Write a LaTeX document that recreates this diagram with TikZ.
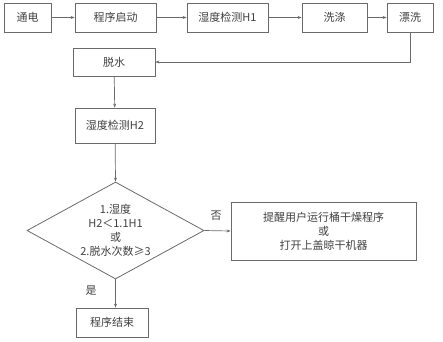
\documentclass[tikz,border=0pt]{standalone}
\usepackage{fontspec}
\setmainfont{Noto Sans CJK SC}
\usetikzlibrary{shapes.geometric,arrows.meta}
\definecolor{linegray}{HTML}{6A6A6A}
\definecolor{textgray}{HTML}{404040}
\tikzset{
  box/.style={draw=linegray, line width=0.8pt, rectangle, inner sep=0pt, text=textgray,
    font=\fontsize{11}{14}\selectfont, align=center},
  conn/.style={draw=linegray, line width=0.7pt, -{Stealth[length=4pt,width=3pt]}},
  lbl/.style={text=textgray, font=\fontsize{11}{14}\selectfont, inner sep=0pt}
}
\begin{document}
\begin{tikzpicture}[x=1pt,y=-1pt]
\useasboundingbox (0,0) rectangle (443,341);
\node[box, minimum width=47pt, minimum height=29pt] (tongdian) at (27.5,17.5) {通电};
\node[box, minimum width=81pt, minimum height=29pt] (qidong) at (115.5,17.5) {程序启动};
\node[box, minimum width=81pt, minimum height=29pt] (hone) at (227.5,17.5) {湿度检测H1};
\node[box, minimum width=65pt, minimum height=29pt] (xidi) at (334.5,17.5) {洗涤};
\node[box, minimum width=46pt, minimum height=29pt] (piaoxi) at (410,17.5) {漂洗};
\node[box, minimum width=82pt, minimum height=28pt] (tuoshui) at (114,62) {脱水};
\node[box, minimum width=80pt, minimum height=35pt] (htwo) at (115,125.5) {湿度检测H2};
\node[draw=linegray, line width=0.8pt, diamond, minimum width=177pt, minimum height=97pt, inner sep=0pt] (dia) at (115.5,230.5) {};
\node[lbl, align=center] (dtext) at (dia.center) {1.湿度\\H2＜1.1H1\\或\\2.脱水次数≥3};
\node[box, minimum width=185pt, minimum height=58pt] (tip) at (323.5,231) {提醒用户运行桶干燥程序\\或\\打开上盖晾干机器};
\node[box, minimum width=72pt, minimum height=29pt] (jieshu) at (112,322.5) {程序结束};
\node[lbl] (fou) at (216,216) {否};
\node[lbl] (shi) at (91,291) {是};
\draw[conn] (tongdian) -- (qidong);
\draw[conn] (qidong) -- (hone);
\draw[conn] (hone) -- (xidi);
\draw[conn] (xidi) -- (piaoxi);
\draw[conn] (piaoxi.south) |- (tuoshui.east);
\draw[conn] (tuoshui) -- (htwo);
\draw[conn] (htwo) -- (dia.north);
\draw[conn] (dia.east) -- (tip.west);
\draw[conn] (dia.south) -- (dia.south |- jieshu.north);
\end{tikzpicture}
\end{document}
